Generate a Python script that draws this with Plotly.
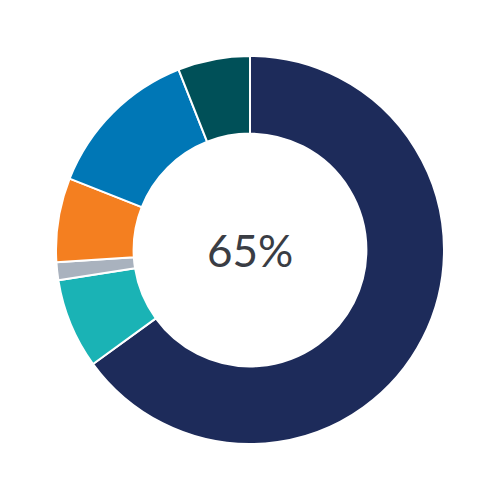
import plotly.graph_objects as go

labels = ["A", "B", "C", "D", "E", "F"]
values = [65, 7.5, 1.5, 7, 13, 6]
colors = ["#1d2b5a", "#1ab3b5", "#a9b2be", "#f47f20", "#0077b6", "#005058"]
center_text = "65%"

fig = go.Figure(go.Pie(
    labels=labels, values=values, hole=0.6, sort=False, direction="clockwise",
    rotation=0, textinfo="none", hoverinfo="label+percent",
    marker=dict(colors=colors, line=dict(color="white", width=2)),
    domain=dict(x=[0.096, 0.872], y=[0.128, 0.904]),
))
fig.add_annotation(text=center_text, x=0.484, y=0.516, xref="paper", yref="paper",
                   showarrow=False, font=dict(family="Lato", size=44, color="#3a3d44"))
fig.update_layout(width=500, height=500, margin=dict(l=0, r=0, t=0, b=0),
                  showlegend=False, paper_bgcolor="white")
fig.write_html("out.html")
